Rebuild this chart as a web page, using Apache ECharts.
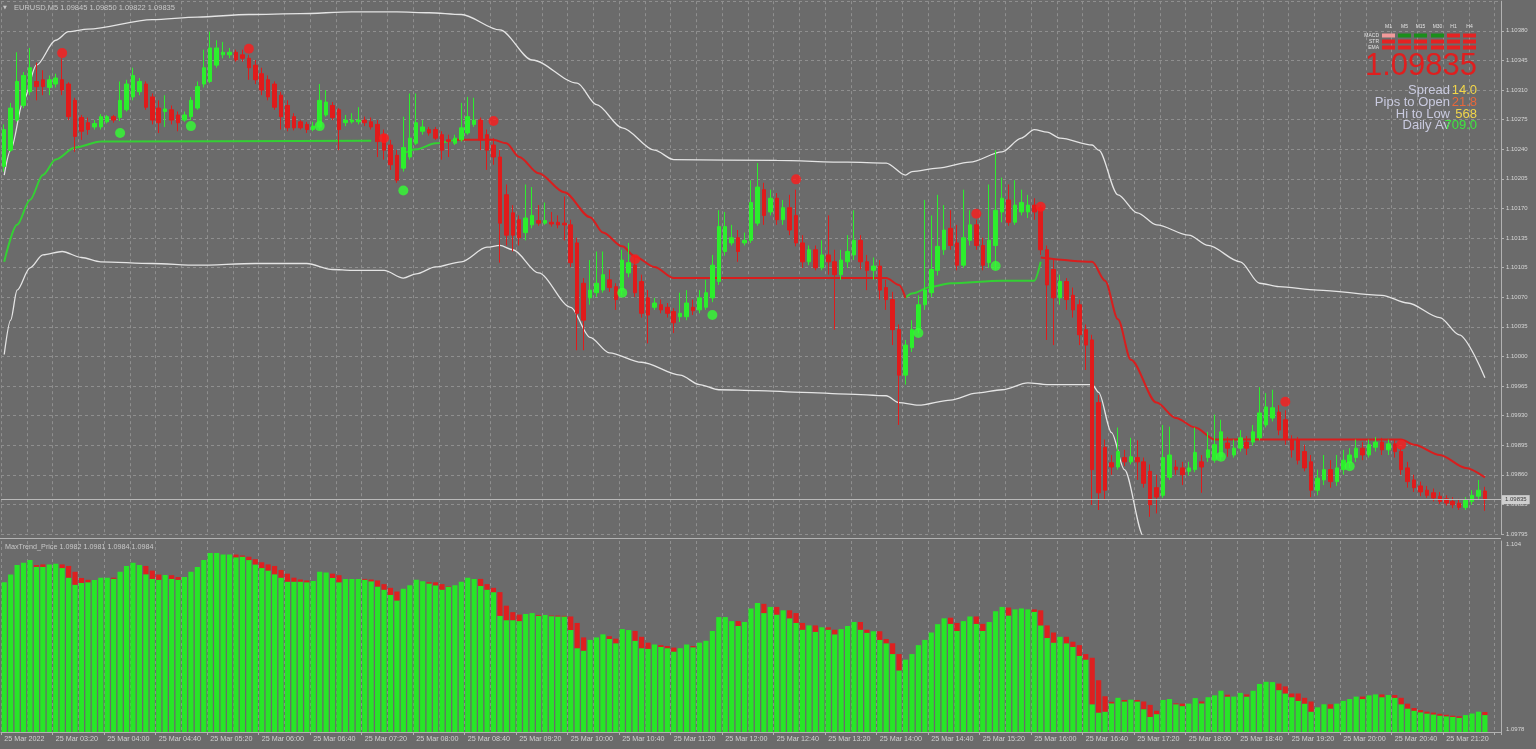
<!DOCTYPE html>
<html><head><meta charset="utf-8">
<script src="https://cdn.jsdelivr.net/npm/echarts@6/dist/echarts.min.js"></script>
<style>html,body{margin:0;padding:0;background:#6b6b6b;overflow:hidden}#c{width:1536px;height:749px}</style>
</head><body><div id="c"></div>
<script>
// ---------- data ----------
const symbolName = 'EURUSD,M5';
const startLabel = '25 Mar 2022';
const dayLabel = '25 Mar';
const startMinutes = 2 * 60 + 40;   // first bar 02:40
const stepMinutes = 5;
const slotCount = 233;

const open = [
1.10223,1.10242,1.10277,1.10294,1.10310,1.10322,1.10324,1.10315,1.10319,1.10324,
1.10319,1.10300,1.10280,1.10274,1.10269,1.10269,1.10275,1.10281,1.10280,1.10289,
1.10304,1.10310,1.10319,1.10304,1.10291,1.10287,1.10289,1.10283,1.10277,1.10281,
1.10291,1.10319,1.10322,1.10341,1.10353,1.10353,1.10356,1.10353,1.10349,1.10341,
1.10331,1.10324,1.10319,1.10306,1.10294,1.10281,1.10275,1.10272,1.10266,1.10269,
1.10283,1.10294,1.10289,1.10274,1.10275,1.10275,1.10277,1.10275,1.10272,1.10260,
1.10248,1.10236,1.10221,1.10234,1.10250,1.10264,1.10266,1.10266,1.10260,1.10254,
1.10250,1.10254,1.10262,1.10272,1.10277,1.10260,1.10248,1.10234,1.10190,1.10169,
1.10161,1.10146,1.10155,1.10160,1.10157,1.10158,1.10158,1.10157,1.10155,1.10134,
1.10087,1.10070,1.10076,1.10079,1.10091,1.10083,1.10079,1.10099,1.10108,1.10089,
1.10070,1.10059,1.10062,1.10059,1.10054,1.10048,1.10048,1.10059,1.10056,1.10059,
1.10070,1.10089,1.10124,1.10134,1.10140,1.10134,1.10137,1.10157,1.10196,1.10170,
1.10186,1.10161,1.10175,1.10166,1.10134,1.10112,1.10126,1.10105,1.10120,1.10112,
1.10097,1.10112,1.10120,1.10137,1.10112,1.10102,1.10107,1.10082,1.10068,1.10033,
1.09980,1.10012,1.10033,1.10062,1.10076,1.10102,1.10126,1.10151,1.10134,1.10108,
1.10137,1.10155,1.10131,1.10111,1.10131,1.10170,1.10184,1.10158,1.10170,1.10170,
1.10178,1.10175,1.10126,1.10103,1.10070,1.10089,1.10073,1.10062,1.10033,1.10021,
1.09948,1.09896,1.09878,1.09873,1.09884,1.09879,1.09884,1.09879,1.09868,1.09849,
1.09840,1.09861,1.09873,1.09872,1.09868,1.09870,1.09879,1.09884,1.09881,1.09885,
1.09901,1.09887,1.09895,1.09902,1.09902,1.09907,1.09922,1.09930,1.09937,1.09928,
1.09905,1.09905,1.09891,1.09879,1.09846,1.09858,1.09870,1.09856,1.09870,1.09878,
1.09884,1.09895,1.09887,1.09896,1.09902,1.09893,1.09900,1.09891,1.09872,1.09858,
1.09851,1.09846,1.09843,1.09839,1.09836,1.09833,1.09831,1.09826,1.09833,1.09839,
1.09845];

const close = [
1.10266,1.10291,1.10322,1.10329,1.10338,1.10316,1.10316,1.10324,1.10326,1.10312,
1.10281,1.10258,1.10264,1.10266,1.10273,1.10281,1.10281,1.10277,1.10300,1.10319,
1.10329,1.10322,1.10292,1.10277,1.10274,1.10290,1.10277,1.10274,1.10283,1.10300,
1.10316,1.10338,1.10361,1.10361,1.10356,1.10356,1.10347,1.10349,1.10338,1.10324,
1.10312,1.10304,1.10292,1.10281,1.10268,1.10268,1.10268,1.10266,1.10270,1.10300,
1.10298,1.10280,1.10266,1.10277,1.10277,1.10277,1.10274,1.10269,1.10252,1.10242,
1.10225,1.10207,1.10245,1.10256,1.10274,1.10269,1.10262,1.10256,1.10242,1.10252,
1.10256,1.10268,1.10281,1.10277,1.10254,1.10242,1.10234,1.10157,1.10143,1.10143,
1.10140,1.10163,1.10166,1.10157,1.10160,1.10156,1.10155,1.10155,1.10111,1.10052,
1.10044,1.10079,1.10087,1.10097,1.10082,1.10068,1.10114,1.10111,1.10076,1.10052,
1.10050,1.10064,1.10056,1.10052,1.10041,1.10052,1.10064,1.10055,1.10070,1.10076,
1.10108,1.10153,1.10153,1.10140,1.10124,1.10137,1.10181,1.10199,1.10166,1.10186,
1.10161,1.10175,1.10149,1.10134,1.10112,1.10126,1.10105,1.10120,1.10112,1.10097,
1.10114,1.10124,1.10137,1.10112,1.10102,1.10107,1.10079,1.10068,1.10033,1.09980,
1.10015,1.10033,1.10062,1.10079,1.10103,1.10130,1.10149,1.10131,1.10108,1.10140,
1.10155,1.10131,1.10108,1.10137,1.10172,1.10186,1.10158,1.10178,1.10181,1.10178,
1.10170,1.10126,1.10085,1.10070,1.10089,1.10068,1.10056,1.10027,1.10015,1.09870,
1.09843,1.09846,1.09873,1.09891,1.09879,1.09885,1.09879,1.09854,1.09829,1.09838,
1.09884,1.09887,1.09870,1.09864,1.09872,1.09890,1.09873,1.09893,1.09899,1.09914,
1.09895,1.09895,1.09907,1.09895,1.09914,1.09936,1.09943,1.09942,1.09916,1.09905,
1.09893,1.09881,1.09872,1.09846,1.09860,1.09870,1.09856,1.09872,1.09881,1.09887,
1.09895,1.09887,1.09899,1.09902,1.09893,1.09900,1.09891,1.09870,1.09856,1.09849,
1.09844,1.09840,1.09837,1.09833,1.09831,1.09829,1.09826,1.09835,1.09840,1.09846,
1.09835];

const low = [
1.10217,1.10240,1.10275,1.10291,1.10306,1.10300,1.10306,1.10306,1.10315,1.10306,
1.10277,1.10240,1.10254,1.10260,1.10266,1.10266,1.10273,1.10274,1.10276,1.10287,
1.10300,1.10306,1.10289,1.10272,1.10262,1.10269,1.10272,1.10264,1.10275,1.10277,
1.10289,1.10315,1.10320,1.10338,1.10349,1.10349,1.10345,1.10345,1.10324,1.10319,
1.10306,1.10300,1.10289,1.10266,1.10264,1.10265,1.10266,1.10262,1.10264,1.10266,
1.10281,1.10277,1.10242,1.10270,1.10273,1.10272,1.10270,1.10266,1.10234,1.10231,
1.10219,1.10204,1.10217,1.10231,1.10248,1.10260,1.10259,1.10254,1.10231,1.10234,
1.10248,1.10252,1.10260,1.10269,1.10242,1.10219,1.10225,1.10111,1.10131,1.10124,
1.10131,1.10137,1.10151,1.10154,1.10155,1.10153,1.10151,1.10137,1.10106,1.10009,
1.10009,1.10062,1.10071,1.10076,1.10077,1.10056,1.10073,1.10094,1.10071,1.10047,
1.10017,1.10056,1.10052,1.10047,1.10029,1.10042,1.10044,1.10050,1.10052,1.10056,
1.10065,1.10085,1.10119,1.10131,1.10112,1.10131,1.10134,1.10154,1.10155,1.10166,
1.10155,1.10155,1.10143,1.10130,1.10105,1.10108,1.10102,1.10102,1.10097,1.10033,
1.10091,1.10105,1.10114,1.10103,1.10079,1.10091,1.10068,1.10056,1.10015,1.09922,
1.09969,1.10007,1.10029,1.10056,1.10071,1.10096,1.10120,1.10126,1.10102,1.10105,
1.10131,1.10126,1.10102,1.10105,1.10103,1.10158,1.10154,1.10155,1.10166,1.10163,
1.10161,1.10120,1.10021,1.10015,1.10062,1.10056,1.10047,1.10015,1.09986,1.09829,
1.09823,1.09835,1.09864,1.09870,1.09874,1.09876,1.09858,1.09849,1.09815,1.09819,
1.09837,1.09858,1.09864,1.09852,1.09863,1.09867,1.09843,1.09879,1.09878,1.09881,
1.09885,1.09884,1.09891,1.09887,1.09898,1.09904,1.09919,1.09926,1.09910,1.09899,
1.09884,1.09876,1.09868,1.09838,1.09840,1.09852,1.09849,1.09851,1.09864,1.09872,
1.09879,1.09881,1.09884,1.09891,1.09887,1.09887,1.09884,1.09864,1.09849,1.09844,
1.09839,1.09837,1.09833,1.09830,1.09828,1.09825,1.09823,1.09823,1.09829,1.09835,
1.09822];

const high = [
1.10272,1.10297,1.10356,1.10333,1.10361,1.10344,1.10335,1.10329,1.10331,1.10349,
1.10321,1.10303,1.10283,1.10280,1.10277,1.10284,1.10283,1.10283,1.10322,1.10324,
1.10338,1.10326,1.10322,1.10308,1.10300,1.10306,1.10294,1.10287,1.10287,1.10304,
1.10322,1.10359,1.10380,1.10370,1.10368,1.10361,1.10359,1.10359,1.10353,1.10347,
1.10338,1.10329,1.10322,1.10310,1.10300,1.10285,1.10277,1.10275,1.10275,1.10319,
1.10312,1.10298,1.10291,1.10283,1.10285,1.10292,1.10281,1.10280,1.10277,1.10266,
1.10254,1.10242,1.10281,1.10308,1.10308,1.10277,1.10269,1.10269,1.10264,1.10260,
1.10260,1.10297,1.10304,1.10303,1.10280,1.10266,1.10256,1.10242,1.10202,1.10178,
1.10166,1.10202,1.10199,1.10178,1.10181,1.10170,1.10166,1.10188,1.10161,1.10140,
1.10093,1.10114,1.10124,1.10124,1.10103,1.10087,1.10126,1.10134,1.10120,1.10097,
1.10079,1.10070,1.10068,1.10064,1.10058,1.10076,1.10079,1.10068,1.10079,1.10091,
1.10120,1.10172,1.10170,1.10155,1.10149,1.10146,1.10207,1.10227,1.10204,1.10196,
1.10192,1.10184,1.10190,1.10196,1.10143,1.10131,1.10131,1.10137,1.10166,1.10126,
1.10126,1.10143,1.10172,1.10143,1.10120,1.10117,1.10114,1.10091,1.10077,1.10039,
1.10021,1.10044,1.10073,1.10184,1.10166,1.10190,1.10178,1.10172,1.10155,1.10196,
1.10172,1.10161,1.10140,1.10202,1.10242,1.10210,1.10202,1.10207,1.10196,1.10190,
1.10186,1.10178,1.10131,1.10114,1.10097,1.10093,1.10082,1.10068,1.10039,1.10027,
1.09957,1.09905,1.09887,1.09919,1.09893,1.09907,1.09904,1.09884,1.09876,1.09864,
1.09922,1.09920,1.09881,1.09879,1.09879,1.09919,1.09887,1.09914,1.09934,1.09928,
1.09908,1.09905,1.09916,1.09909,1.09922,1.09966,1.09959,1.09963,1.09945,1.09939,
1.09910,1.09908,1.09899,1.09887,1.09870,1.09887,1.09881,1.09887,1.09893,1.09895,
1.09905,1.09902,1.09905,1.09908,1.09907,1.09905,1.09905,1.09895,1.09879,1.09864,
1.09856,1.09851,1.09848,1.09844,1.09840,1.09838,1.09836,1.09838,1.09846,1.09858,
1.09850];

// envelope bands, read as [bar index, price]
const upperBand = [[0,1.10213],[1,1.10242],[3,1.10300],[5,1.10341],[8,1.10370],[10,1.10380],[13,1.10383],[23,1.10394],[30,1.10397],[38,1.10400],[46,1.10401],[54,1.10403],[61,1.10403],[66,1.10402],[71,1.10400],[77,1.10382],[82,1.10347],[89,1.10320],[92,1.10295],[96,1.10268],[101,1.10242],[104,1.10231],[120,1.10230],[131,1.10228],[137,1.10227],[140,1.10213],[141,1.10217],[145,1.10221],[150,1.10228],[155,1.10240],[158,1.10256],[160,1.10266],[162,1.10263],[164,1.10256],[169,1.10248],[170,1.10242],[173,1.10190],[176,1.10169],[179,1.10155],[184,1.10143],[187,1.10131],[192,1.10112],[195,1.10087],[198,1.10083],[204,1.10079],[214,1.10073],[218,1.10064],[223,1.10047],[226,1.10027],[230,1.09977]];
const lowerBand = [[0,1.10004],[1,1.10044],[2,1.10079],[4,1.10105],[6,1.10120],[9,1.10124],[12,1.10117],[15,1.10112],[23,1.10110],[30,1.10108],[39,1.10110],[47,1.10110],[51,1.10103],[54,1.10102],[59,1.10102],[62,1.10093],[64,1.10098],[67,1.10106],[71,1.10112],[75,1.10129],[77,1.10131],[79,1.10126],[83,1.10099],[88,1.10059],[91,1.10024],[94,1.10006],[99,1.09995],[105,1.09980],[108,1.09969],[111,1.09963],[117,1.09962],[124,1.09960],[131,1.09958],[137,1.09956],[139,1.09948],[142,1.09945],[147,1.09951],[151,1.09959],[155,1.09963],[159,1.09971],[162,1.09969],[169,1.09969],[170,1.09960],[172,1.09913],[174,1.09870],[177,1.09792],[178,1.09770]];

// trend line segments [bar index, price]
const trendUpSegments = [
  [[0,1.10112],[2,1.10155],[4,1.10184],[6,1.10213],[8,1.10231],[11,1.10245],[15,1.10252],[57,1.10253]],
  [[62,1.10238],[64,1.10243],[67,1.10250],[70,1.10254]],
  [[140,1.10070],[141,1.10075],[144,1.10083],[147,1.10087],[155,1.10090],[160,1.10090],[161,1.10112]]
];
const trendDownSegments = [
  [[70,1.10254],[76,1.10254],[78,1.10250],[80,1.10234],[83,1.10215],[87,1.10193],[91,1.10164],[93,1.10146],[96,1.10130],[98,1.10118],[101,1.10106],[104,1.10093],[137,1.10093],[139,1.10085],[140,1.10070]],
  [[161,1.10117],[169,1.10112],[171,1.10090],[173,1.10045],[175,1.09998],[179,1.09948],[182,1.09930],[185,1.09919],[188,1.09905],[217,1.09905],[219,1.09899],[223,1.09887],[227,1.09872],[230,1.09861]]
];

const sellSignals = [[9,1.10355],[38,1.10360],[59,1.10256],[76,1.10276],[98,1.10115],[123,1.10208],[151,1.10168],[161,1.10176],[199,1.09949],[217,1.09899]];
const buySignals = [[18,1.10262],[29,1.10270],[49,1.10270],[62,1.10195],[96,1.10076],[110,1.10050],[142,1.10029],[154,1.10107],[189,1.09885],[209,1.09874]];

// price scale
const priceMin = 1.09795, priceStep = 0.0003447, priceSteps = 18;
const histMin = 1.0978, histMax = 1.104;
const maxTrendValues = [1.0982, 1.0981, 1.0984, 1.0984];

// info panel
const tfLabels = ['M1','M5','M15','M30','H1','H4'];
const rowLabels = ['MACD','STR','EMA'];
const signalRows = [
  ['weak','up','up','up','down','down'],
  ['down','down','down','down','down','down'],
  ['down','down','down','down','down','down']
];
const infoLabels = ['Spread','Pips to Open','Hi to Low','Daily Av'];
const infoValues = ['14.0','21.8','568','709.0'];
const infoColors = ['#f2d64a','#e8673a','#f2d64a','#3ee83e'];

// ---------- build ----------
const times = [];
for (let k = 0; k < slotCount; k++) {
  const t = startMinutes + k * stepMinutes;
  times.push(dayLabel + ' ' + String(Math.floor(t / 60)).padStart(2, '0') + ':' + String(t % 60).padStart(2, '0'));
}
const N = open.length, last = N - 1;
const candles = open.map((o, i) => [o, close[i], low[i], high[i]]);
const histRed = open.map((o, i) => Math.max(0, +(o - close[i]).toFixed(5)));

const FONT = 'Liberation Sans, Arial, sans-serif';
const dashed = { color: '#8f8f8f', type: [3, 3], width: 1 };
const frame = '#b2b2b2';

const series = [
  {
    type: 'candlestick', xAxisIndex: 0, yAxisIndex: 0, z: 3, barWidth: 4,
    data: candles,
    itemStyle: { color: '#2cef2c', color0: '#e01b1b', borderColor: '#2cef2c', borderColor0: '#e01b1b', borderWidth: 1 }
  },
  // carrier of the current price line
  {
    type: 'line', xAxisIndex: 0, yAxisIndex: 0, z: 1, symbol: 'none',
    data: [[last, close[last]]],
    lineStyle: { opacity: 0 },
    markLine: {
      silent: true, symbol: ['none', 'none'], animation: false, precision: 5,
      lineStyle: { color: '#b9b9b9', type: 'solid', width: 1 },
      label: { show: true, position: 'end', formatter: close[last].toFixed(5), backgroundColor: '#cfcfcf', color: '#3a3a3a', fontSize: 6, fontFamily: FONT, padding: [2, 3, 1, 3], distance: 1 },
      data: [{ yAxis: close[last] }]
    }
  },
  { type: 'line', xAxisIndex: 0, yAxisIndex: 0, z: 2, data: upperBand, smooth: 0.3, smoothMonotone: 'x', symbol: 'none', lineStyle: { color: '#e4e4e4', width: 1.3 } },
  { type: 'line', xAxisIndex: 0, yAxisIndex: 0, z: 2, data: lowerBand, smooth: 0.3, smoothMonotone: 'x', symbol: 'none', lineStyle: { color: '#e4e4e4', width: 1.3 } }
];
trendUpSegments.forEach(seg => series.push({ type: 'line', xAxisIndex: 0, yAxisIndex: 0, z: 2, data: seg, smooth: 0.3, smoothMonotone: 'x', symbol: 'none', lineStyle: { color: '#34d034', width: 2 } }));
trendDownSegments.forEach(seg => series.push({ type: 'line', xAxisIndex: 0, yAxisIndex: 0, z: 2, data: seg, smooth: 0.3, smoothMonotone: 'x', symbol: 'none', lineStyle: { color: '#d81e1e', width: 2 } }));
series.push(
  { type: 'scatter', xAxisIndex: 0, yAxisIndex: 0, z: 5, data: sellSignals, symbolSize: 10, itemStyle: { color: '#ff1c1c' } },
  { type: 'scatter', xAxisIndex: 0, yAxisIndex: 0, z: 5, data: buySignals, symbolSize: 10, itemStyle: { color: '#33ff33' } },
  { type: 'bar', xAxisIndex: 1, yAxisIndex: 1, stack: 'mt', data: close, barCategoryGap: '20%', itemStyle: { color: '#27e627' } },
  { type: 'bar', xAxisIndex: 1, yAxisIndex: 1, stack: 'mt', data: histRed, barCategoryGap: '20%', itemStyle: { color: '#dd2020' } }
);

// graphics
const g = [];
const txt = (text, x, y, size, fill, align, family) => g.push({
  type: 'text', silent: true, z: 100,
  style: { text, x, y, fill, font: size + 'px ' + (family || FONT), align: align || 'left', verticalAlign: 'middle', textAlign: align || 'left', textVerticalAlign: 'middle' }
});
const line = (x1, y1, x2, y2, c) => g.push({ type: 'line', silent: true, z: 100, shape: { x1, y1, x2, y2 }, style: { stroke: c, lineWidth: 1 } });

line(0, 538.5, 1501, 538.5, frame);
txt('\u25BC', 3, 7.5, 5, '#c8c8c8', 'left', 'DejaVu Sans');
txt(symbolName + ' ' + [open[last], high[last], low[last], close[last]].map(v => v.toFixed(5)).join(' '), 14, 8, 7.5, '#c8c8c8');
txt('MaxTrend_Price ' + maxTrendValues.join(' '), 5, 547, 7.2, '#c8c8c8');

const colX = [1382, 1398, 1414, 1431, 1447, 1463];
const rowY = [33.5, 39.5, 45.5];
const sigColor = { weak: '#f29a9a', up: '#1b8e1b', down: '#e52222' };
tfLabels.forEach((t, c) => txt(t, colX[c] + 6.5, 27, 5, '#e2e2e2', 'center'));
rowLabels.forEach((t, r) => txt(t, 1379, rowY[r] + 2, 5, '#e2e2e2', 'right'));
signalRows.forEach((row, r) => row.forEach((s, c) => g.push({ type: 'rect', silent: true, z: 100, shape: { x: colX[c], y: rowY[r], width: 13, height: 4 }, style: { fill: sigColor[s] } })));
txt(close[last].toFixed(5), 1477, 66, 31, '#e01e1e', 'right');
const infoY = [90.5, 102.5, 114, 125.5];
infoLabels.forEach((t, k) => txt(t, 1450, infoY[k], 13, '#c9cadf', 'right'));
infoValues.forEach((t, k) => txt(t, 1477, infoY[k], 13, infoColors[k], 'right'));

const option = {
  backgroundColor: '#6b6b6b',
  animation: false,
  textStyle: { fontFamily: FONT },
  grid: [
    { left: 1, right: 35, top: 534 - priceSteps * 29.6, bottom: 749 - 534 },
    { left: 1, right: 35, top: 541, bottom: 749 - 732 }
  ],
  xAxis: [
    { type: 'category', gridIndex: 0, data: times, boundaryGap: true,
      axisLine: { show: false }, axisTick: { show: false }, axisLabel: { show: false },
      splitLine: { show: true, interval: 3, lineStyle: dashed } },
    { type: 'category', gridIndex: 1, data: times, boundaryGap: true,
      axisLine: { show: true, lineStyle: { color: frame } },
      axisTick: { show: true, interval: 7, length: 3, lineStyle: { color: frame } },
      axisLabel: { show: true, interval: 7, align: 'left', color: '#d0d0d0', fontSize: 7.2, margin: 4, fontFamily: FONT,
        formatter: (v, i) => (i === 0 ? startLabel : (i < N ? v : '')) },
      splitLine: { show: true, interval: 3, lineStyle: dashed } }
  ],
  yAxis: [
    { type: 'value', gridIndex: 0, position: 'right', scale: true,
      min: priceMin, max: +(priceMin + priceSteps * priceStep).toFixed(7), interval: priceStep,
      axisLine: { show: true, lineStyle: { color: frame } },
      axisTick: { show: true, length: 3, lineStyle: { color: frame } },
      axisLabel: { color: '#d6d6d6', fontSize: 6, margin: 5, fontFamily: FONT, showMaxLabel: false,
        formatter: v => (Math.floor(v * 20000 + 1e-6) / 20000).toFixed(5) },
      splitLine: { show: true, lineStyle: dashed } },
    { type: 'value', gridIndex: 1, position: 'right', scale: true,
      min: histMin, max: histMax, interval: +(histMax - histMin).toFixed(4),
      axisLine: { show: true, lineStyle: { color: frame } },
      axisTick: { show: false },
      axisLabel: { color: '#d6d6d6', fontSize: 6, margin: 5, fontFamily: FONT,
        verticalAlignMinLabel: 'bottom', verticalAlignMaxLabel: 'top',
        formatter: v => String(+v.toFixed(4)) },
      splitLine: { show: false } }
  ],
  series,
  graphic: g
};

const chart = echarts.init(document.getElementById('c'), null, { renderer: 'canvas' });
chart.setOption(option);
</script>
</body></html>
